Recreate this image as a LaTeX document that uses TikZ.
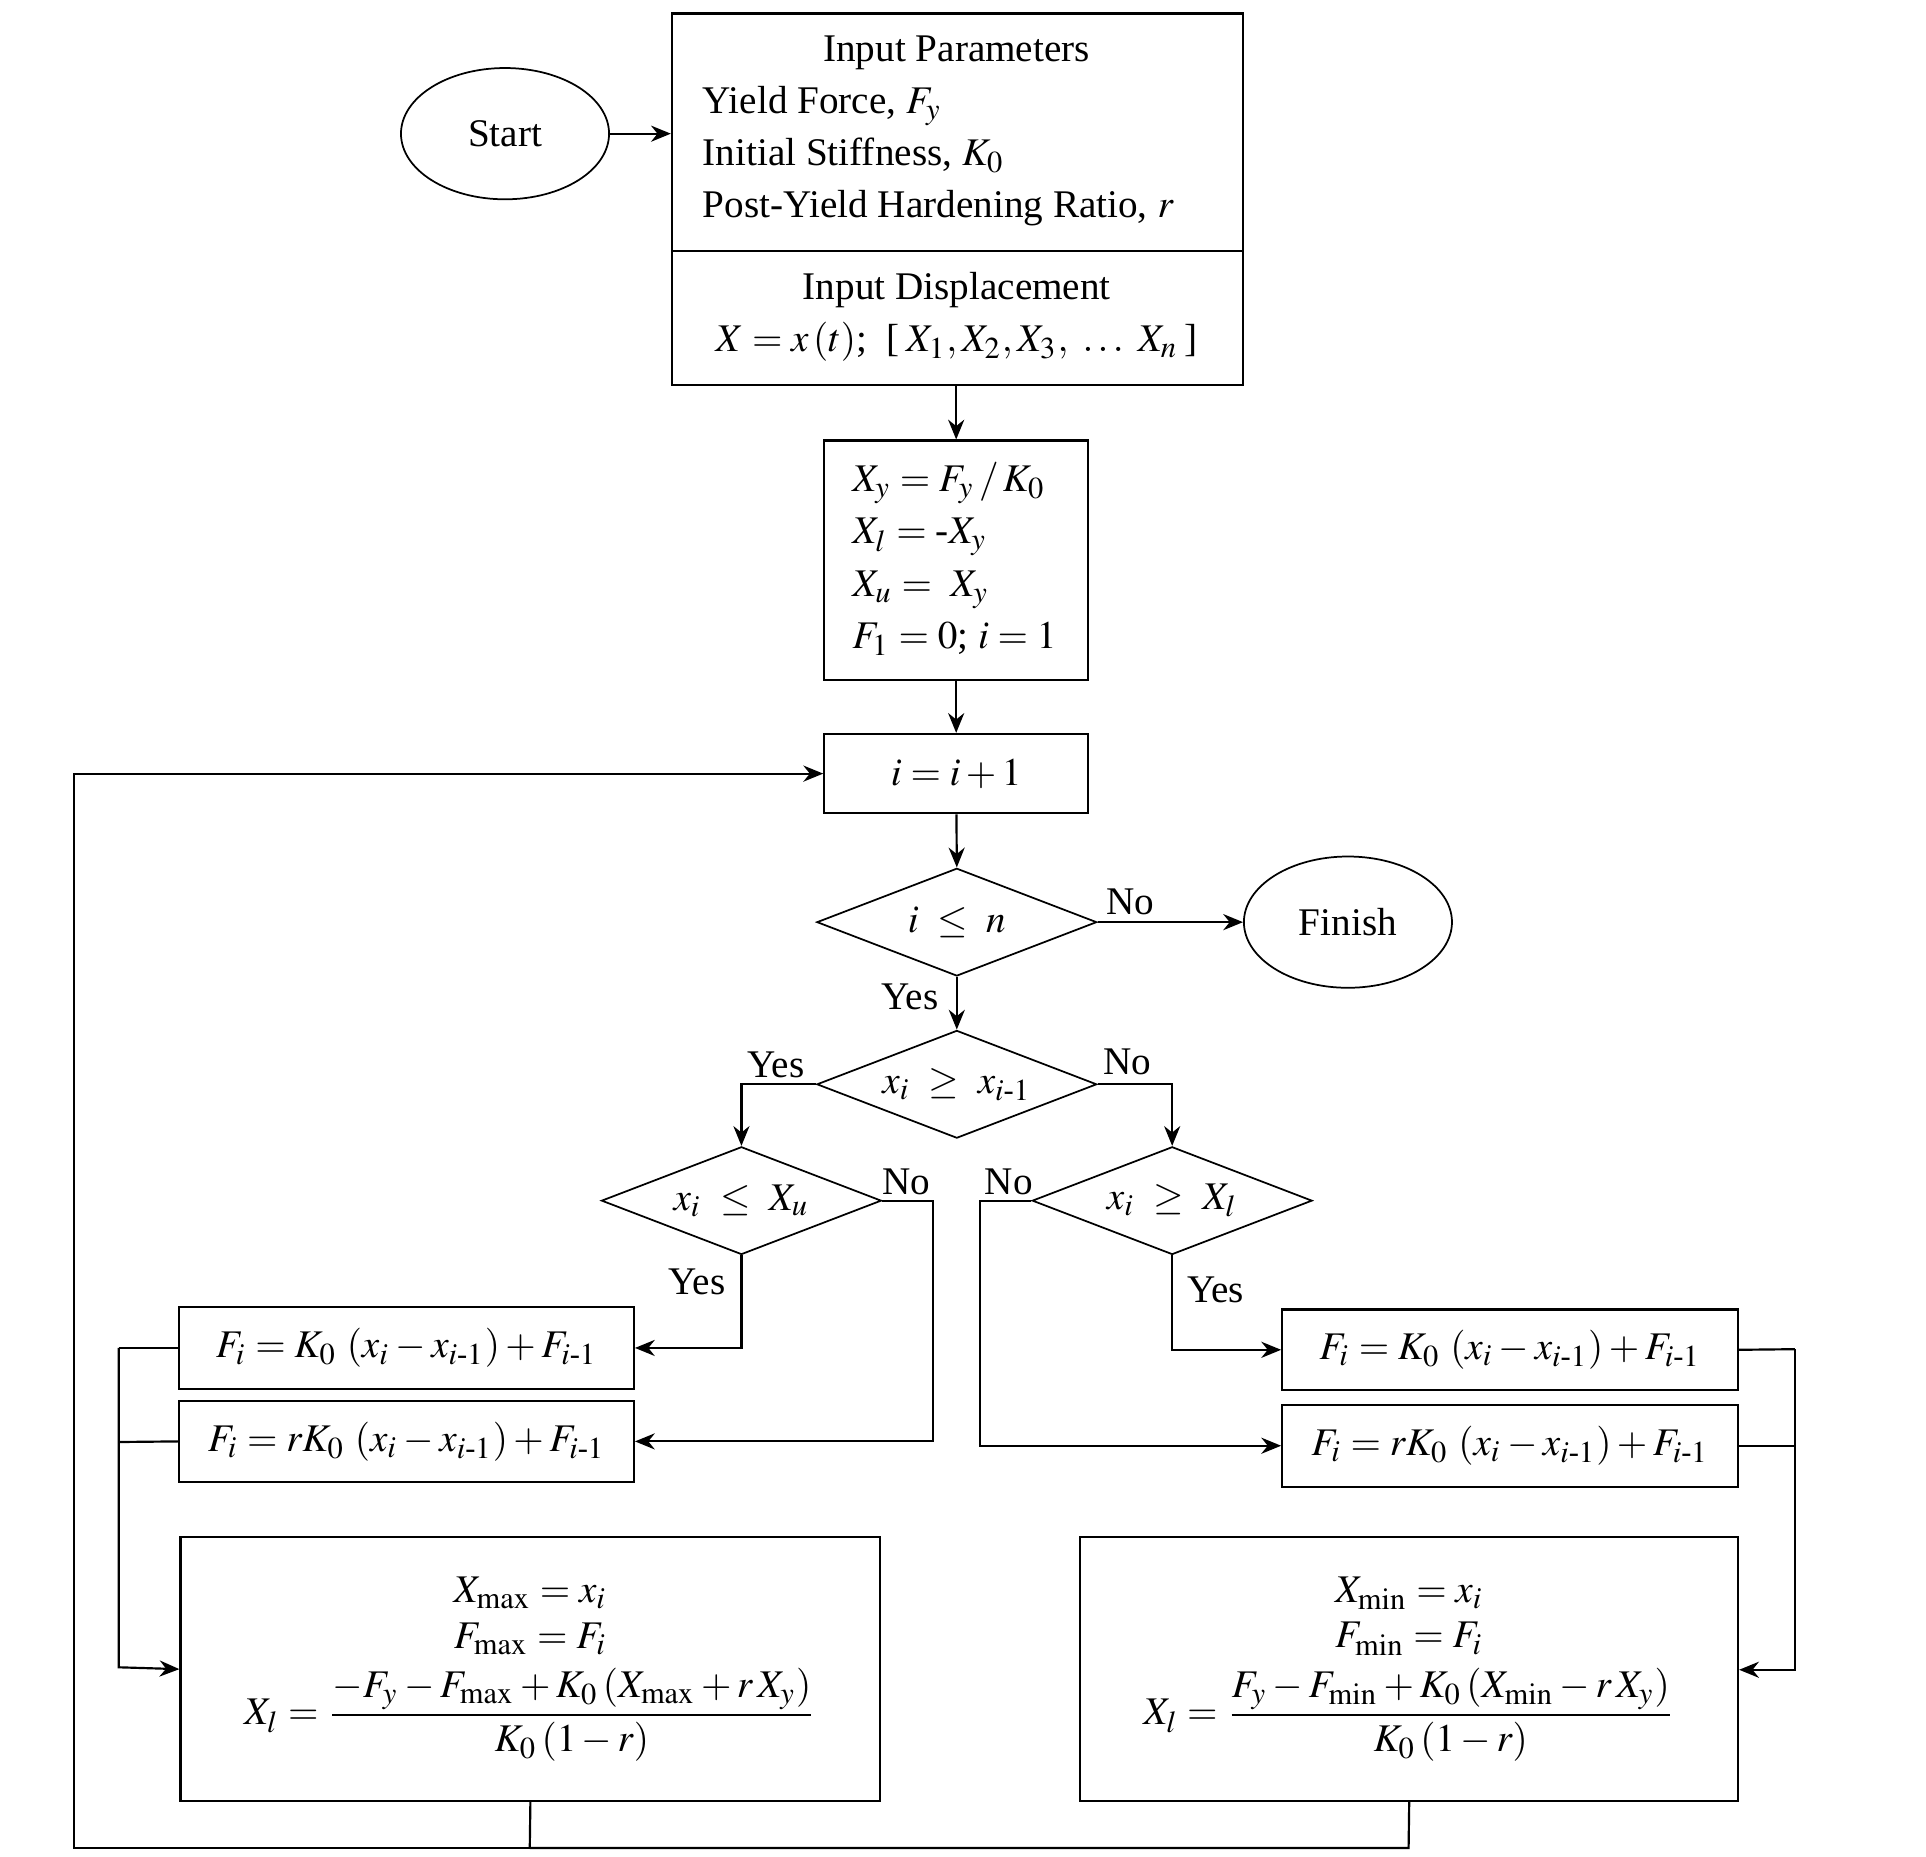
\documentclass[tikz,border=0pt]{standalone}
\usepackage{amsmath}
\usepackage{mathptmx}
\usepackage{fontspec}
\setmainfont{Liberation Serif}
\usetikzlibrary{shapes.geometric,arrows.meta}
\begin{document}
\begin{tikzpicture}[x=0.01cm,y=-0.01cm,
  font=\fontsize{9}{11.5}\selectfont,
  box/.style={draw,line width=0.5pt,inner sep=0pt},
  dia/.style={draw,diamond,inner sep=0pt,minimum width=2.26cm,minimum height=0.87cm},
  ell/.style={draw,ellipse,minimum width=1.68cm,minimum height=1.06cm},
  arr/.style={-{Stealth[length=1.6mm,width=1.3mm]},line width=0.5pt},
  ln/.style={line width=0.5pt},
  lab/.style={inner sep=0pt}]
\useasboundingbox (0,0) rectangle (1556,1500);
\node[ell] (start) at (408,108) {Start};
\node[box,minimum width=4.61cm,minimum height=3cm] (inp) at (773.5,161) {};
\draw[ln] (543,203) -- (1004,203);
\node[lab,align=left,anchor=north west,font=\fontsize{9}{12}\selectfont] (inpt) at (567,28) {\makebox[4.1cm]{Input Parameters}\\Yield Force, $F_y$\\Initial Stiffness, $K_0$\\Post-Yield Hardening Ratio, $r$};
\node[lab,align=center,font=\fontsize{9}{12}\selectfont] (disp) at (773,256) {Input Displacement\\$X=x\,(t)$;\ \ [\,$X_1, X_2, X_3,\ \ldots\ X_n$\,]};
\node[box,minimum width=2.13cm,minimum height=1.93cm] (b2) at (772.5,452.5) {};
\node[lab,align=left,anchor=north west,font=\fontsize{9}{12}\selectfont] (b2t) at (688,373) {$X_y=F_y\,/\,K_0$\\$X_l=\text{-}X_y$\\$X_u=\ X_y$\\$F_1=0$; $i=1$};
\node[box,minimum width=2.13cm,minimum height=0.64cm] (inc) at (772.5,625) {$i=i+1$};
\node[dia] (d1) at (773,745) {};
\node[lab] at (d1) {$i\ \le\ n$};
\node[ell] (fin) at (1089,745) {Finish};
\node[dia] (d2) at (773,876) {};
\node[lab] at (d2) {$x_i\ \ge\ x_{i\text{-}1}$};
\node[dia] (d3) at (599,970) {};
\node[lab] at (d3) {$x_i\ \le\ X_u$};
\node[dia] (d4) at (947,970) {};
\node[lab] at (d4) {$x_i\ \ge\ X_l$};
\node[box,minimum width=3.67cm,minimum height=0.66cm] (l1) at (328.5,1089) {$F_i=K_0\ (x_i-x_{i\text{-}1})+F_{i\text{-}1}$};
\node[box,minimum width=3.67cm,minimum height=0.65cm] (l2) at (328.5,1164.5) {$F_i=rK_0\ (x_i-x_{i\text{-}1})+F_{i\text{-}1}$};
\node[box,minimum width=3.68cm,minimum height=0.65cm] (r1) at (1220,1090.5) {$F_i=K_0\ (x_i-x_{i\text{-}1})+F_{i\text{-}1}$};
\node[box,minimum width=3.68cm,minimum height=0.66cm] (r2) at (1220,1168) {$F_i=rK_0\ (x_i-x_{i\text{-}1})+F_{i\text{-}1}$};
\node[box,minimum width=5.65cm,minimum height=2.13cm,align=center] (bl) at (428.5,1348.5) {$X_{\max}=x_i$\\[-1pt]$F_{\max}=F_i$\\[2pt]$X_l=\dfrac{-F_y-F_{\max}+K_0\,(X_{\max}+r\,X_y)}{K_0\,(1-r)}$};
\node[box,minimum width=5.31cm,minimum height=2.13cm,align=center] (br) at (1138.5,1348.5) {$X_{\min}=x_i$\\[-1pt]$F_{\min}=F_i$\\[2pt]$X_l=\dfrac{F_y-F_{\min}+K_0\,(X_{\min}-r\,X_y)}{K_0\,(1-r)}$};
% labels
\node[lab] (ly1) at (735,805) {Yes};
\node[lab] (ln1) at (913,729) {No};
\node[lab] (ly2) at (627,860) {Yes};
\node[lab] (ln2) at (911,858) {No};
\node[lab] (ln3) at (732,955) {No};
\node[lab] (ly3) at (563,1036) {Yes};
\node[lab] (ln4) at (815,955) {No};
\node[lab] (ly4) at (982,1042) {Yes};
% connectors
\draw[arr] (start) -- (inp.west|-start);
\draw[arr] (inp.south-|b2) -- (b2);
\draw[arr] (b2) -- (inc);
\draw[arr] (inc) -- (d1.north);
\draw[arr] (d1.east) -- (fin);
\draw[arr] (d1.south) -- (d2.north);
\draw[arr] (d2.west) -| (d3.north);
\draw[arr] (d2.east) -| (d4.north);
\draw[arr] (d3.south) |- (l1.east);
\draw[arr] (d3.east) -- (754,970) |- (l2.east);
\draw[arr] (d4.south) |- (r1.west);
\draw[arr] (d4.west) -- (792,970) |- (r2.west);
\coordinate (jl) at (96,1347);
\draw[ln] (l1.west) -- (96,1089);
\draw[ln] (l2.west) -- (96,1165);
\draw[arr] (96,1089) -- (jl) -- (bl.west);
\coordinate (jr) at (1450,1349);
\draw[ln] (r1.east) -- (1450,1090);
\draw[ln] (r2.east) -- (1450,1168);
\draw[arr] (1450,1090) -- (jr) -- (br.east|-jr);
\coordinate (lb) at (428,1493);
\coordinate (rb) at (1138,1493);
\draw[ln] (bl.south) -- (lb);
\draw[ln] (br.south) -- (rb) -- (lb);
\draw[arr] (lb) -- (60,1493) -- (60,625) -- (inc.west);
\end{tikzpicture}
\end{document}
